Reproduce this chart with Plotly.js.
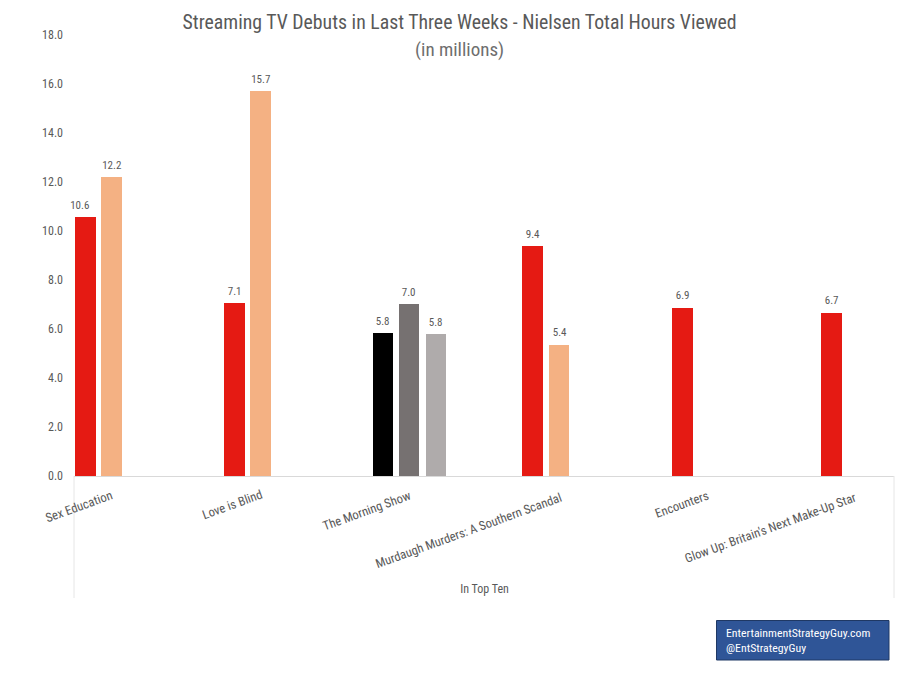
<!DOCTYPE html>
<html><head><meta charset="utf-8">
<script src="https://cdn.plot.ly/plotly-3.0.1.min.js"></script>
<style>html,body{margin:0;padding:0;background:#fff}
.plot-container text{font-stretch:condensed !important}</style></head>
<body><div id="chart" style="width:916px;height:676px"></div>
<script>
const categories = ["Sex Education","Love is Blind","The Morning Show","Murdaugh Murders: A Southern Scandal","Encounters","Glow Up: Britain's Next Make-Up Star"];
const redValues = [10.56,7.06,null,9.38,6.86,6.66];
const peachValues = [12.2,15.7,null,5.36,null,null];
const morningA = [null,null,5.82,null,null,null];
const morningB = [null,null,7.02,null,null,null];
const morningC = [null,null,5.78,null,null,null];
const tickVals = [0,2,4,6,8,10,12,14,16,18];
const titleLine1 = "Streaming TV Debuts in Last Three Weeks - Nielsen Total Hours Viewed";
const titleLine2 = "(in millions)";
const groupLabel = "In Top Ten";
const credits = "EntertainmentStrategyGuy.com<br>@EntStrategyGuy";

const FONT = 'Roboto,"Roboto Condensed",sans-serif';
const W = 0.15, CAT = 136.67;
const px = p => p / CAT;
const redOff = [-67,-55,0,-30,-17,-4.5].map(px);
const peachOff = [-41,-29,0,-3.5,0,0].map(px);
const labelShift = [-64,-47,-49,-84,-8,-55];
const labelDrop = [30,28,34,54,28,51];
const X = p => (p-74)/820, Y = p => (476-p)/441;

const series = [
  [redValues,'#E51A13',redOff],
  [peachValues,'#F4B183',peachOff],
  [morningA,'#000000',categories.map(()=>-43/CAT)],
  [morningB,'#767171',categories.map(()=>-17/CAT)],
  [morningC,'#AFABAB',categories.map(()=>10/CAT)]
];
const traces = series.map(([y,color,offset])=>({type:'bar', x:categories, y:y, width:W, offset:offset,
    marker:{color:color,line:{width:0}}, hoverinfo:'x+y', showlegend:false}));
const valueAnn = [];
series.forEach(([y,color,offset],s)=>y.forEach((v,i)=>{
  if(v===null) return;
  const nudge = (s===0 && i===0) ? -6 : 0;
  valueAnn.push({x:categories[i],y:v,xref:'x',yref:'y',text:v.toFixed(1),showarrow:false,
    xanchor:'center',yanchor:'middle',xshift:(offset[i]+W/2)*CAT+nudge,yshift:12,
    font:{family:FONT,size:11,color:'#595959'}});
}));
const catAnn = categories.map((c,i)=>({x:c,y:0,xref:'x',yref:'y',text:c,showarrow:false,
  xanchor:'center',yanchor:'middle',xshift:labelShift[i],yshift:-labelDrop[i],textangle:-20,
  font:{family:FONT,size:12.6,color:'#595959'}}));
const layout = {
  width:916,height:676,margin:{l:74,r:22,t:35,b:200,pad:0},
  paper_bgcolor:'#fff',plot_bgcolor:'#fff',bargap:0,showlegend:false,
  font:{family:FONT,color:'#595959'},
  xaxis:{type:'category',categoryorder:'array',categoryarray:categories,range:[-0.5,5.5],showticklabels:false,ticks:'',
    showgrid:false,zeroline:false,showline:false,fixedrange:true},
  yaxis:{range:[0,18],tickvals:tickVals,tickformat:'.1f',ticks:'',showgrid:false,zeroline:true,ticklabelstandoff:10,
    zerolinecolor:'#D9D9D9',zerolinewidth:1,showline:false,tickfont:{family:FONT,size:12,color:'#595959'},fixedrange:true},
  shapes:[
    {type:'line',xref:'paper',yref:'paper',x0:0,x1:0,y0:0,y1:-122/441,line:{color:'#E6E6E6',width:1}},
    {type:'line',xref:'paper',yref:'paper',x0:1,x1:1,y0:0,y1:-122/441,line:{color:'#E6E6E6',width:1}},
    {type:'rect',xref:'paper',yref:'paper',x0:X(716.5),x1:X(889),y0:Y(620.5),y1:Y(660),fillcolor:'#2F5597',line:{color:'#1F3864',width:1}}
  ],
  annotations:catAnn.concat(valueAnn,[
    {xref:'paper',yref:'paper',x:0.5,y:Y(589),text:groupLabel,showarrow:false,xanchor:'center',yanchor:'middle',
      font:{family:FONT,size:12,color:'#595959'}},
    {xref:'paper',yref:'paper',x:X(459),y:Y(22),text:titleLine1,showarrow:false,xanchor:'center',yanchor:'middle',
      font:{family:FONT,size:19.8,color:'#595959'}},
    {xref:'paper',yref:'paper',x:X(459),y:Y(49),text:titleLine2,showarrow:false,xanchor:'center',yanchor:'middle',
      font:{family:FONT,size:19,color:'#6E6E6E'}},
    {xref:'paper',yref:'paper',x:X(723.5),y:Y(640),text:credits,showarrow:false,xanchor:'left',yanchor:'middle',align:'left',
      font:{family:FONT,size:11.8,color:'#FFFFFF'}}
  ])
};
Plotly.newPlot('chart',traces,layout,{displayModeBar:false});
</script></body></html>
